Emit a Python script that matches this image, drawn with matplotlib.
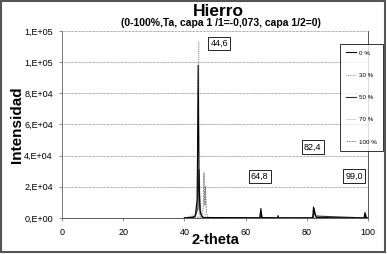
import matplotlib.pyplot as plt
from matplotlib.patches import Rectangle

plt.rcParams['font.family'] = ['Liberation Sans', 'DejaVu Sans']

# 2-theta / intensity (sparse points around each peak)
x_0 = [40, 42.8, 43.6, 44.2, 44.5, 44.8, 45.2, 46.0, 64.6, 65.0, 65.3, 70.4, 70.6, 70.8,
       81.9, 82.2, 82.6, 83.2, 98.7, 99.0, 99.3, 100]
y_0 = [0, 200, 1500, 12000, 98000, 20000, 3000, 300, 0, 6000, 200, 0, 1500, 0,
       0, 7000, 2500, 200, 0, 3500, 200, 0]

x_30 = [40, 43.0, 43.8, 44.3, 44.6, 45.0, 45.8, 64.7, 65.0, 65.3, 82.0, 82.3, 82.8, 86.4, 86.6, 86.8]
y_30 = [0, 600, 3000, 34000, 9000, 2000, 200, 0, 4000, 0, 0, 5000, 1500, 0, 1000, 0]

x_50 = [40, 43.5, 44.4, 44.8, 45.1, 45.6, 46.2, 64.8, 65.1, 65.4, 82.1, 82.4, 82.9, 99.0, 99.2, 99.5]
y_50 = [0, 800, 6000, 31000, 5000, 1500, 200, 0, 3500, 0, 0, 6000, 1200, 0, 2500, 0]

x_70 = [40, 42.5, 43.5, 44.3, 44.7, 45.0, 45.6, 46.5, 47.2, 65.0, 65.2, 65.5, 82.2, 82.5, 83.0]
y_70 = [0, 1500, 3000, 10000, 113000, 9000, 3000, 2500, 200, 0, 2500, 0, 0, 4000, 200]

x_100 = [40, 45.6, 46.1, 46.4, 46.7, 46.9, 47.2, 47.8, 86.5, 86.7, 86.9]
y_100 = [0, 600, 5000, 29000, 8000, 20000, 3000, 200, 0, 1200, 0]

series = ["0 %", "30 %", "50 %", "70 %", "100 %"]

peak_labels = ["44,6", "64,8", "82,4", "99,0"]
peak_label_x = [51.4, 64.6, 81.9, 95.5]
peak_label_y = [112000, 26500, 45500, 27000]

yticks = [0, 20000, 40000, 60000, 80000, 100000, 120000]
ytick_labels = ["0,E+00", "2,E+04", "4,E+04", "6,E+04", "8,E+04", "1,E+05", "1,E+05"]
xticks = [0, 20, 40, 60, 80, 100]

fig = plt.figure(figsize=(3.87, 2.54), dpi=100)
ax = fig.add_axes([0.160, 0.142, 0.791, 0.736])

ax.plot(x_100, y_100, color="#707070", lw=0.6, ls=(0, (2, 1)), label=series[4])
ax.plot(x_70, y_70, color="#b0b0b0", lw=0.7, ls=(0, (1, 1)), label=series[3])
ax.plot(x_30, y_30, color="#808080", lw=0.6, ls=(0, (1, 1)), label=series[1])
ax.plot(x_50, y_50, color="#303030", lw=0.8, label=series[2])
ax.plot(x_0, y_0, color="black", lw=0.8, label=series[0])

ax.set_xlim(0, 100)
ax.set_ylim(0, 120000)
ax.set_xticks(xticks)
ax.set_xticklabels([str(t) for t in xticks], fontsize=6.5)
ax.set_yticks(yticks)
ax.set_yticklabels(ytick_labels, fontsize=6.5)
ax.tick_params(axis='both', length=2.5, width=0.5, color="#606060")
ax.tick_params(axis='x', pad=5)
ax.tick_params(axis='y', pad=4)

ax.grid(axis='y', color="#606060", lw=0.5, ls=(0, (1, 1)))
ax.spines['top'].set_visible(False)
ax.spines['left'].set_color("#606060")
ax.spines['left'].set_linewidth(0.6)
ax.spines['right'].set_color("#404040")
ax.spines['right'].set_linewidth(0.6)
ax.spines['bottom'].set_color("#404040")
ax.spines['bottom'].set_linewidth(0.6)
ax.spines['bottom'].set_linestyle((0, (1, 1)))

ax.set_xlabel("2-theta", fontsize=10.5, fontweight='bold', labelpad=-3)
ax.set_ylabel("Intensidad", fontsize=11, fontweight='bold', labelpad=0)

for lab, lx, ly in zip(peak_labels, peak_label_x, peak_label_y):
    ax.text(lx, ly, lab, fontsize=6.5, ha='center', va='center',
            bbox=dict(boxstyle='square,pad=0.25', fc='white', ec='black', lw=0.6))

fig.text(0.563, 0.955, "Hierro", fontsize=12.5, fontweight='bold', ha='center', va='center')
fig.text(0.572, 0.911, "(0-100%,Ta, capa 1 /1=-0,073, capa 1/2=0)", fontsize=7.5,
         fontweight='bold', ha='center', va='center')

handles, labels = ax.get_legend_handles_labels()
order = [4, 2, 3, 1, 0]
leg = ax.legend([handles[i] for i in order], [labels[i] for i in order],
                loc='upper left', bbox_to_anchor=(0.879, 0.827), bbox_transform=fig.transFigure,
                fontsize=4.5, frameon=True, fancybox=False, labelspacing=2.7,
                handlelength=1.6, handletextpad=0.4, borderpad=1.0, borderaxespad=0)
leg.get_frame().set_edgecolor("black")
leg.get_frame().set_linewidth(0.7)
leg.set_zorder(5)

fig.patches.append(Rectangle((0.003, 0.006), 0.992, 0.99, transform=fig.transFigure,
                             fill=False, ec="#555555", lw=1.5))

fig.savefig("out.png", dpi=100)
